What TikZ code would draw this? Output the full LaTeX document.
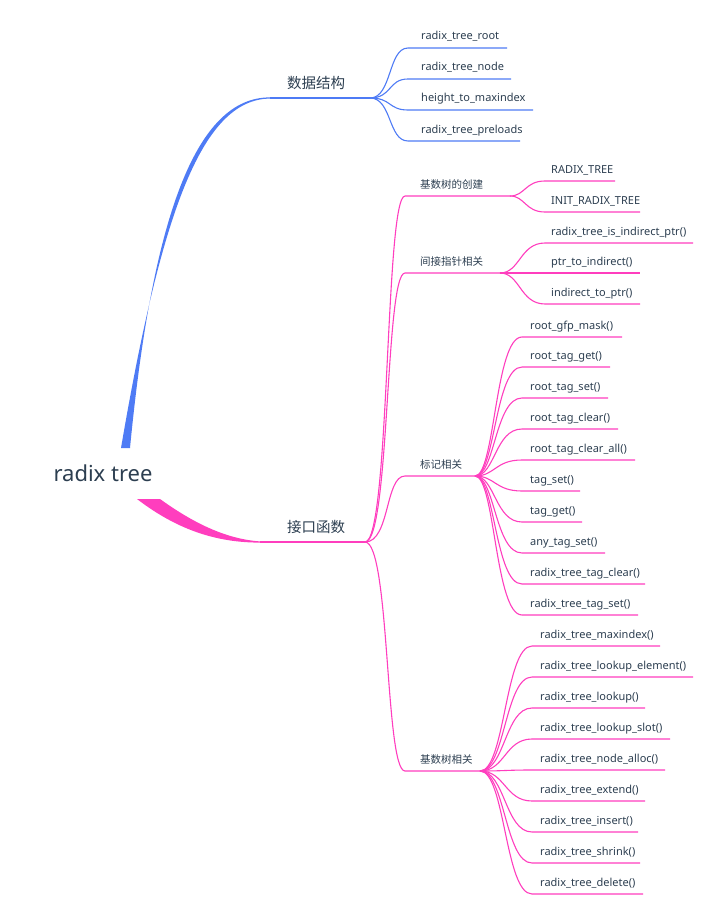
\documentclass[tikz,border=0pt]{standalone}
\usepackage{fontspec}
\setmainfont{Noto Sans}
\newfontfamily\cjk{Noto Sans CJK SC}
\definecolor{tx}{HTML}{2C3E50}
\definecolor{bl}{HTML}{4E7BF5}
\definecolor{pk}{HTML}{FF3EBE}
\begin{document}
\begin{tikzpicture}[x=1pt,y=-1pt,
  leaf/.style={anchor=base west,inner sep=0pt,text=tx,font=\fontsize{11}{12}\selectfont},
  sub/.style={anchor=base west,inner sep=0pt,text=tx,font=\cjk\fontsize{10.5}{12}\selectfont},
  main/.style={anchor=base,inner sep=0pt,text=tx,font=\cjk\fontsize{14.5}{16}\selectfont},
  bc/.style={draw=bl,line width=1.1pt},
  pc/.style={draw=pk,line width=1.1pt}]
\useasboundingbox (0,0) rectangle (720,923);
\node[inner sep=0pt,text=tx,font=\fontsize{22}{24}\selectfont] (root) at (103,473) {radix tree};
% blue main branch
\fill[bl] (121,448) .. controls (160,220) and (200,99) .. (270,98.6) -- (270,97.4) .. controls (195,97) and (152,220) .. (130,448) -- cycle;
\coordinate (D) at (370,98);
\draw[bc] (270,98) -- (D);
\node[main] (ds) at (316,89) {数据结构};
\foreach \t/\y/\e [count=\i] in {radix\_tree\_root/48/507,radix\_tree\_node/79/511,height\_to\_maxindex/110/533,radix\_tree\_preloads/141/520}{
  \node[leaf] (d\i) at (421,\y-8) {\t};
  \draw[bc] (D) .. controls (392,98) and (388,\y) .. (408,\y) -- (\e,\y);
}
% pink main branch
\fill[pk] (137,499) .. controls (180,532) and (220,542.6) .. (260,542.6) -- (260,541.4) .. controls (225,539) and (192,522) .. (160,499) -- cycle;
\coordinate (J) at (365,542);
\draw[pc] (260,542) -- (J);
\node[main] (jk) at (316,532) {接口函数};
\coordinate (C1) at (510,196);
\coordinate (C2) at (500,273);
\coordinate (C3) at (475,476);
\coordinate (C4) at (480,771);
\foreach \n/\t/\y/\e in {s1/基数树的创建/196/510,s2/间接指针相关/273/500,s3/标记相关/476/475,s4/基数树相关/771/480}{
  \node[sub] (\n) at (420,\y-8) {\t};
  \draw[pc] (J) .. controls (390,542) and (385,\y) .. (405,\y) -- (\e,\y);
}
\foreach \t/\y/\e [count=\i] in {RADIX\_TREE/181/615,INIT\_RADIX\_TREE/212/640}{
  \node[leaf] (a\i) at (551,\y-8) {\t};
  \draw[pc] (C1) .. controls (525,196) and (525,\y) .. (545,\y) -- (\e,\y);
}
\foreach \t/\y/\e [count=\i] in {radix\_tree\_is\_indirect\_ptr()/243/693,ptr\_to\_indirect()/273/640,indirect\_to\_ptr()/304/640}{
  \node[leaf] (b\i) at (551,\y-8) {\t};
  \draw[pc] (C2) .. controls (520,273) and (520,\y) .. (545,\y) -- (\e,\y);
}
\foreach \t/\y/\e [count=\i] in {root\_gfp\_mask()/337/622,root\_tag\_get()/367/610,root\_tag\_set()/398/608,root\_tag\_clear()/429/618,root\_tag\_clear\_all()/460/635,tag\_set()/491/580,tag\_get()/522/582,any\_tag\_set()/553/605,radix\_tree\_tag\_clear()/584/645,radix\_tree\_tag\_set()/615/638}{
  \node[leaf] (c\i) at (530,\y-8) {\t};
  \draw[pc] (C3) .. controls (495,476) and (495,\y) .. (522,\y) -- (\e,\y);
}
\foreach \t/\y/\e [count=\i] in {radix\_tree\_maxindex()/646/660,radix\_tree\_lookup\_element()/677/693,radix\_tree\_lookup()/708/645,radix\_tree\_lookup\_slot()/739/670,radix\_tree\_node\_alloc()/770/665,radix\_tree\_extend()/801/645,radix\_tree\_insert()/832/638,radix\_tree\_shrink()/863/640,radix\_tree\_delete()/894/643}{
  \node[leaf] (e\i) at (540,\y-8) {\t};
  \draw[pc] (C4) .. controls (505,771) and (505,\y) .. (532,\y) -- (\e,\y);
}
\end{tikzpicture}
\end{document}
